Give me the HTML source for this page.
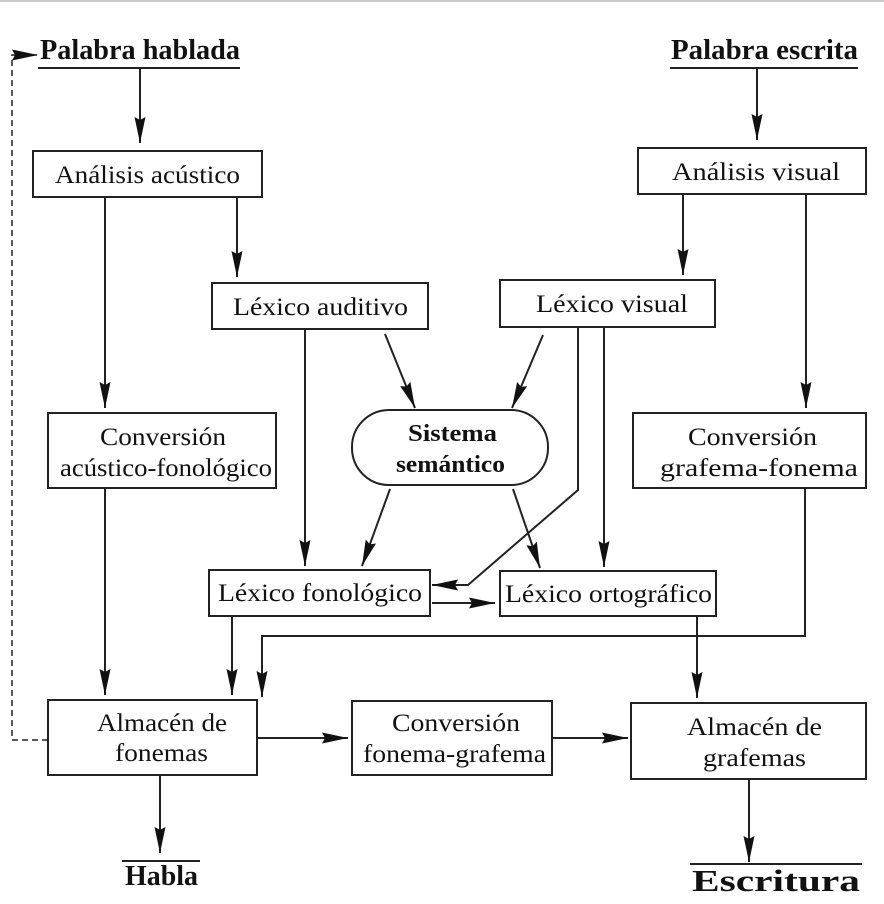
<!DOCTYPE html>
<html><head><meta charset="utf-8"><style>
html,body{margin:0;padding:0;background:#fff;}
svg{display:block;}
text{font-family:"Liberation Serif",serif;fill:#111;}
</style></head><body>
<svg width="884" height="904" viewBox="0 0 884 904" xmlns="http://www.w3.org/2000/svg">
<defs>
<marker id="a" viewBox="0 0 26 11" refX="26" refY="5.5" markerWidth="26" markerHeight="11" markerUnits="userSpaceOnUse" orient="auto">
<path d="M0,0 L26,5.5 L0,11 L3,5.5 Z" fill="#111"/>
</marker>
</defs>
<rect x="0" y="0" width="884" height="2" fill="#ccc"/>
<g stroke="#222" stroke-width="2" fill="none">
<rect x="33" y="151" width="229" height="46"/>
<rect x="638" y="148" width="228" height="46"/>
<rect x="212" y="283" width="216" height="46"/>
<rect x="500" y="280" width="215" height="47"/>
<rect x="48" y="413" width="228" height="75"/>
<rect x="352" y="410" width="196" height="75" rx="37"/>
<rect x="633" y="413" width="233" height="75"/>
<rect x="209" y="570" width="221" height="46"/>
<rect x="500" y="571" width="216" height="45"/>
<rect x="48" y="700" width="209" height="75"/>
<rect x="352" y="701" width="200" height="74"/>
<rect x="631" y="703" width="235" height="76"/>
<line x1="38" y1="68" x2="240" y2="68"/>
<line x1="670" y1="68" x2="858" y2="68"/>
<line x1="122" y1="861" x2="200" y2="861"/>
<line x1="690" y1="864" x2="862" y2="864"/>
</g>
<g stroke="#222" stroke-width="2" fill="none" marker-end="url(#a)">
<path d="M140,68 V143"/>
<path d="M757,68 V140"/>
<path d="M105,197 V408"/>
<path d="M237,197 V277"/>
<path d="M683,194 V275"/>
<path d="M806,194 V408"/>
<path d="M305,329 V566"/>
<path d="M385,334 L415,408"/>
<path d="M543,335 L512,408"/>
<path d="M578,327 V490 L468,585 L432,585"/>
<path d="M604,327 V567"/>
<path d="M390,489 L362,566"/>
<path d="M513,489 L540,568"/>
<path d="M432,603 H495"/>
<path d="M805,488 V636 H262 V697"/>
<path d="M232,616 V695"/>
<path d="M105,488 V695"/>
<path d="M697,616 V698"/>
<path d="M257,738 H348"/>
<path d="M552,738 H628"/>
<path d="M160,775 V853"/>
<path d="M749,779 V862"/>
</g>
<path d="M48,740 H12 V55 H38" stroke="#222" stroke-width="1.5" fill="none" stroke-dasharray="6,4" marker-end="url(#a)"/>
<g font-size="28" font-weight="bold">
<text x="40" y="59" textLength="200" lengthAdjust="spacingAndGlyphs">Palabra hablada</text>
<text x="671" y="59" textLength="187" lengthAdjust="spacingAndGlyphs">Palabra escrita</text>
<text x="125" y="885" textLength="73" lengthAdjust="spacingAndGlyphs">Habla</text>
<text x="692" y="891" font-size="31" textLength="168" lengthAdjust="spacingAndGlyphs">Escritura</text>
</g>
<g font-size="25">
<text x="55" y="183" textLength="185" lengthAdjust="spacingAndGlyphs">Análisis acústico</text>
<text x="672" y="180" textLength="168" lengthAdjust="spacingAndGlyphs">Análisis visual</text>
<text x="233" y="315" textLength="175" lengthAdjust="spacingAndGlyphs">Léxico auditivo</text>
<text x="536" y="312" textLength="152" lengthAdjust="spacingAndGlyphs">Léxico visual</text>
<text x="100" y="445" textLength="126" lengthAdjust="spacingAndGlyphs">Conversión</text>
<text x="60" y="476" textLength="212" lengthAdjust="spacingAndGlyphs">acústico-fonológico</text>
<text x="688" y="445" textLength="129" lengthAdjust="spacingAndGlyphs">Conversión</text>
<text x="660" y="476" textLength="198" lengthAdjust="spacingAndGlyphs">grafema-fonema</text>
<text x="218" y="601" textLength="204" lengthAdjust="spacingAndGlyphs">Léxico fonológico</text>
<text x="505" y="602" textLength="207" lengthAdjust="spacingAndGlyphs">Léxico ortográfico</text>
<text x="97" y="731" textLength="130" lengthAdjust="spacingAndGlyphs">Almacén de</text>
<text x="115" y="761" textLength="93" lengthAdjust="spacingAndGlyphs">fonemas</text>
<text x="392" y="731" textLength="128" lengthAdjust="spacingAndGlyphs">Conversión</text>
<text x="363" y="762" textLength="183" lengthAdjust="spacingAndGlyphs">fonema-grafema</text>
<text x="687" y="735" textLength="135" lengthAdjust="spacingAndGlyphs">Almacén de</text>
<text x="703" y="766" textLength="103" lengthAdjust="spacingAndGlyphs">grafemas</text>
</g>
<g font-size="24" font-weight="bold">
<text x="408" y="441" textLength="89" lengthAdjust="spacingAndGlyphs">Sistema</text>
<text x="396" y="472" textLength="109" lengthAdjust="spacingAndGlyphs">semántico</text>
</g>
</svg>
</body></html>
